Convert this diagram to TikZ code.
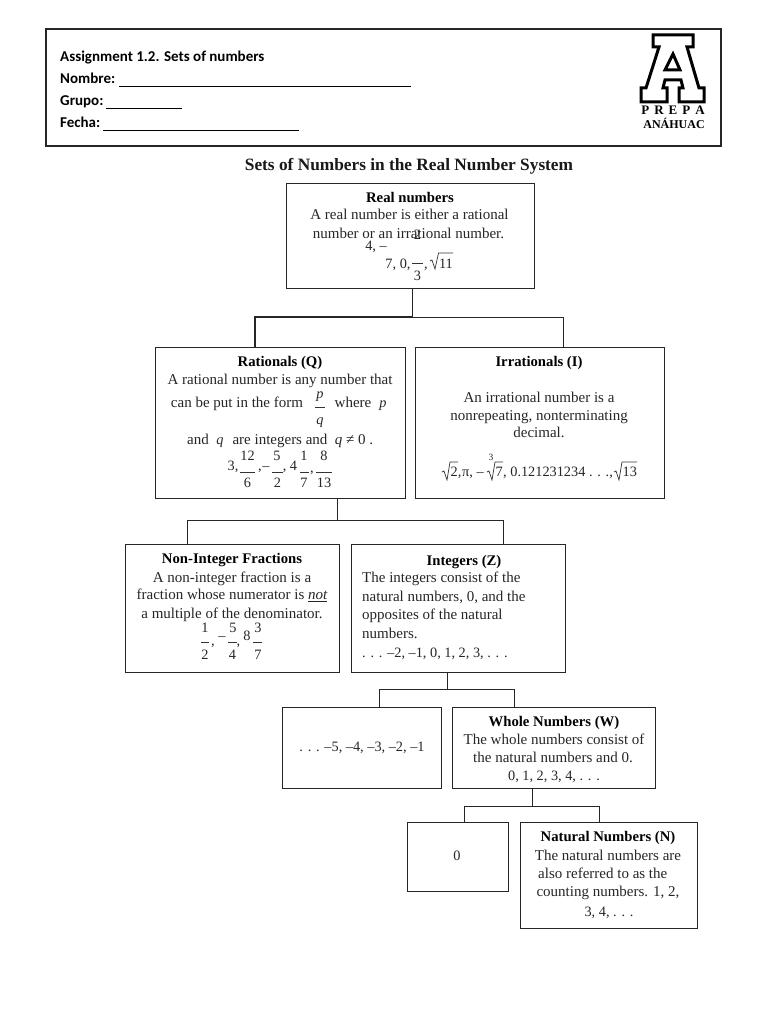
\documentclass[tikz,border=0pt]{standalone}
\usepackage{fontspec}
\usepackage{amsmath}
\setmainfont{Liberation Serif}
\newfontfamily\hdr{Carlito}
\begin{document}
\begin{tikzpicture}[x=1pt,y=-1pt,
  box/.style={draw=black!85,line width=1pt,inner sep=0pt,anchor=north west},
  wire/.style={draw=black!85,line width=1pt},
  bar/.style={line width=.7pt,draw=black!80},
  rad/.style={line width=.7pt,draw=black!80,line join=miter},
  lbl/.style={inner sep=0pt,font=\fontsize{15}{16}\selectfont,text=black!85,anchor=base},
  lbll/.style={lbl,anchor=base west},
  num/.style={lbl,font=\fontsize{14.3}{16}\selectfont},
  numl/.style={num,anchor=base west},
  ttl/.style={lbl,font=\fontsize{14.7}{16}\selectfont\bfseries,text=black},
  hd/.style={inner sep=0pt,anchor=base west,font=\fontsize{15}{16}\hdr\bfseries}]
\useasboundingbox (0,0) rectangle (768,1024);
\fill[white] (0,0) rectangle (768,1024);
% header
\node[box,line width=1.6pt,minimum width=675pt,minimum height=117pt] (head) at (45,28) {};
\node[hd] (h1) at (60,62) {Assignment 1.2. Sets of numbers};
\node[hd] (h2) at (60,84) {Nombre:};
\node[hd] (h3) at (60,106) {Grupo:};
\node[hd] (h4) at (60,128) {Fecha:};
\fill (119,86) rectangle (411,87);
\fill (106,108) rectangle (182,109);
\fill (103,130) rectangle (299,131);
% logo
\draw[line width=3pt,fill=white,line join=miter]
 (653,35)--(693,35)--(693,47)--(687,47)--(699,88)--(704,88)--(704,102)--(679,102)--(679,88)--(683,88)--(681,80)--(665,80)--(663,88)--(667,88)--(667,102)--(641,102)--(641,88)--(646,88)--(659,47)--(653,47)--cycle;
\draw[line width=3pt,fill=white,line join=miter] (673,54)--(680,70)--(665,70)--cycle;
\node[inner sep=0pt,anchor=base,font=\fontsize{13}{14}\selectfont\bfseries] (prepa) at (673,115) {P\hspace{5pt}R\hspace{5pt}E\hspace{5pt}P\hspace{5pt}A};
\node[inner sep=0pt,anchor=base,font=\fontsize{12}{14}\selectfont\bfseries] (anahuac) at (674,128.5) {ANÁHUAC};
% title
\node[lbl,font=\fontsize{17.3}{18}\selectfont\bfseries,text=black!90] (title) at (409,171) {Sets of Numbers in the Real Number System};
% boxes
\node[box,minimum width=248pt,minimum height=105pt] (real) at (286,183) {};
\node[box,minimum width=250pt,minimum height=151pt] (rat) at (155,347) {};
\node[box,minimum width=249pt,minimum height=151pt] (irr) at (415,347) {};
\node[box,minimum width=214pt,minimum height=128pt] (nonint) at (125,544) {};
\node[box,minimum width=214pt,minimum height=128pt] (ints) at (351,544) {};
\node[box,minimum width=159pt,minimum height=81pt] (neg) at (282,707) {};
\node[box,minimum width=203pt,minimum height=81pt] (whole) at (452,707) {};
\node[box,minimum width=101pt,minimum height=69pt] (zero) at (407,822) {};
\node[box,minimum width=177pt,minimum height=106pt] (nat) at (520,822) {};
% connectors
\coordinate (j1a) at (412,317); \coordinate (j1l) at (255,317); \coordinate (j1r) at (563,317);
\draw[wire] (real.south -| j1a)--(j1a);
\draw[wire,line width=1.6pt] (rat.north -| j1l)--(j1l)--(j1a);
\draw[wire] (j1a)--(j1r)--(irr.north -| j1r);
\coordinate (j2a) at (337,520); \coordinate (j2l) at (187,520); \coordinate (j2r) at (503,520);
\draw[wire] (rat.south -| j2a)--(j2a);
\draw[wire] (nonint.north -| j2l)--(j2l)--(j2r)--(ints.north -| j2r);
\coordinate (j3a) at (447,689); \coordinate (j3l) at (379,689); \coordinate (j3r) at (514,689);
\draw[wire] (ints.south -| j3a)--(j3a);
\draw[wire] (neg.north -| j3l)--(j3l)--(j3r)--(whole.north -| j3r);
\coordinate (j4a) at (532,806); \coordinate (j4l) at (464,806); \coordinate (j4r) at (599,806);
\draw[wire] (whole.south -| j4a)--(j4a);
\draw[wire] (zero.north -| j4l)--(j4l)--(j4r)--(nat.north -| j4r);
% real
\node[ttl] (t1) at (410,203) {Real numbers};
\node[lbl] (r1) at (409.5,220) {A real number is either a rational};
\node[lbl] (r2) at (408.5,238) {number or an irrational number.};
\node[num] (r3) at (376,251) {4, –};
\node[num] (r4) at (398,268) {7, 0,};
\node[num] (r5) at (417.5,240) {2};
\draw[bar] (412,263)--(423,263);
\node[num] (r6) at (417.5,280) {3};
\node[num] (r7) at (426,268) {,};
\draw[rad] (430,261)--(432,260)--(435,269)--(438.5,253)--(453,253);
\node[num] (r8) at (446,268) {11};
% rationals
\node[ttl] (t2) at (280,366) {Rationals (Q)};
\node[lbl] (q1) at (280,384) {A rational number is any number that};
\node[lbl] (q2) at (237,407) {can be put in the form};
\node[num] (q3) at (320,398) {\textit{p}};
\draw[bar] (315,407)--(325,407);
\node[num] (q4) at (320,424) {\textit{q}};
\node[lbl] (q5) at (353,407) {where};
\node[num] (q6) at (383,407) {\textit{p}};
\node[lbl] (q7) at (198,444) {and};
\node[num] (q8) at (220,444) {\textit{q}};
\node[lbl] (q9) at (280,444) {are integers and};
\node[lbl] (q10) at (354,444) {\textit{q} ≠ 0 .};
\node[num] (q11) at (233,470) {3,};
\node[num] (q12) at (247.5,460) {12};
\draw[bar] (240,472)--(255,472);
\node[num] (q13) at (247.5,487) {6};
\node[num] (q14) at (260,470) {,};
\node[num] (q23) at (266,470) {–};
\node[num] (q15) at (277,460) {5};
\draw[bar] (272,472)--(283,472);
\node[num] (q16) at (277.5,487) {2};
\node[num] (q17) at (290,470) {, 4};
\node[num] (q18) at (304,460) {1};
\draw[bar] (300,472)--(309,472);
\node[num] (q19) at (304,487) {7};
\node[num] (q20) at (312,472) {,};
\node[num] (q21) at (324,460) {8};
\draw[bar] (316,472)--(332,472);
\node[num] (q22) at (324,487) {13};
% irrationals
\node[ttl] (t3) at (539,366) {Irrationals (I)};
\node[lbl] (i1) at (539,402) {An irrational number is a};
\node[lbl] (i2) at (539,420) {nonrepeating, nonterminating};
\node[lbl] (i3) at (539,437) {decimal.};
\draw[rad] (442,472)--(444,471)--(447,480)--(450,462)--(458,462);
\node[numl] (i4) at (450.5,476) {2,};
\node[numl] (i6) at (462,476) {π, –};
\node[lbl,font=\fontsize{9.5}{10}\selectfont] (i7) at (491,460) {3};
\draw[rad] (487,472)--(489,471)--(492,480)--(495,462)--(503,462);
\node[numl] (i8) at (495.5,476) {7};
\node[numl] (i9) at (503,476) {, 0.121231234 . . .,};
\draw[rad] (614,472)--(616,471)--(619,480)--(622,462)--(637,462);
\node[numl] (i10) at (622.5,476) {13};
% non-integer
\node[ttl] (t4) at (232,563) {Non-Integer Fractions};
\node[lbl] (n1) at (232,582) {A non-integer fraction is a};
\node[lbl] (n2) at (232,599.5) {fraction whose numerator is \textit{\underline{not}}};
\node[lbl] (n3) at (232,618) {a multiple of the denominator.};
\node[num] (n4) at (205,632) {1};
\draw[bar] (201,642)--(209,642);
\node[num] (n5) at (205,659) {2};
\node[num] (n6) at (213,645) {,};
\node[num] (n7) at (222,640) {–};
\node[num] (n8) at (233,632) {5};
\draw[bar] (228,642)--(237,642);
\node[num] (n9) at (232.5,659) {4};
\node[num] (n10) at (238.5,645) {,};
\node[num] (n13) at (247,640) {8};
\node[num] (n11) at (258,632) {3};
\draw[bar] (253,642)--(262,642);
\node[num] (n12) at (258,659) {7};
% integers
\node[ttl] (t5) at (464,565) {Integers (Z)};
\node[lbll] (z1) at (362,582) {The integers consist of the};
\node[lbll] (z2) at (362,601) {natural numbers, 0, and the};
\node[lbll] (z3) at (362,619) {opposites of the natural};
\node[lbll] (z4) at (362,638) {numbers.};
\node[numl] (z5) at (362,657) {. . . –2, –1, 0, 1, 2, 3, . . .};
% neg
\node[num] (m1) at (362,751) {. . . –5, –4, –3, –2, –1};
% whole
\node[ttl] (t6) at (554,726) {Whole Numbers (W)};
\node[lbl] (w1) at (554,744) {The whole numbers consist of};
\node[lbl] (w2) at (553,762) {the natural numbers and 0.};
\node[num] (w3) at (554,780) {0, 1, 2, 3, 4, . . .};
% zero
\node[num] (o1) at (457,860) {0};
% natural
\node[ttl] (t7) at (608,841) {Natural Numbers (N)};
\node[lbl] (a1) at (608,860) {The natural numbers are};
\node[lbll] (a2) at (538,878) {also referred to as the};
\node[lbl] (a3) at (608,896) {counting numbers. 1, 2,};
\node[num] (a4) at (609,916) {3, 4, . . .};
\end{tikzpicture}
\end{document}
